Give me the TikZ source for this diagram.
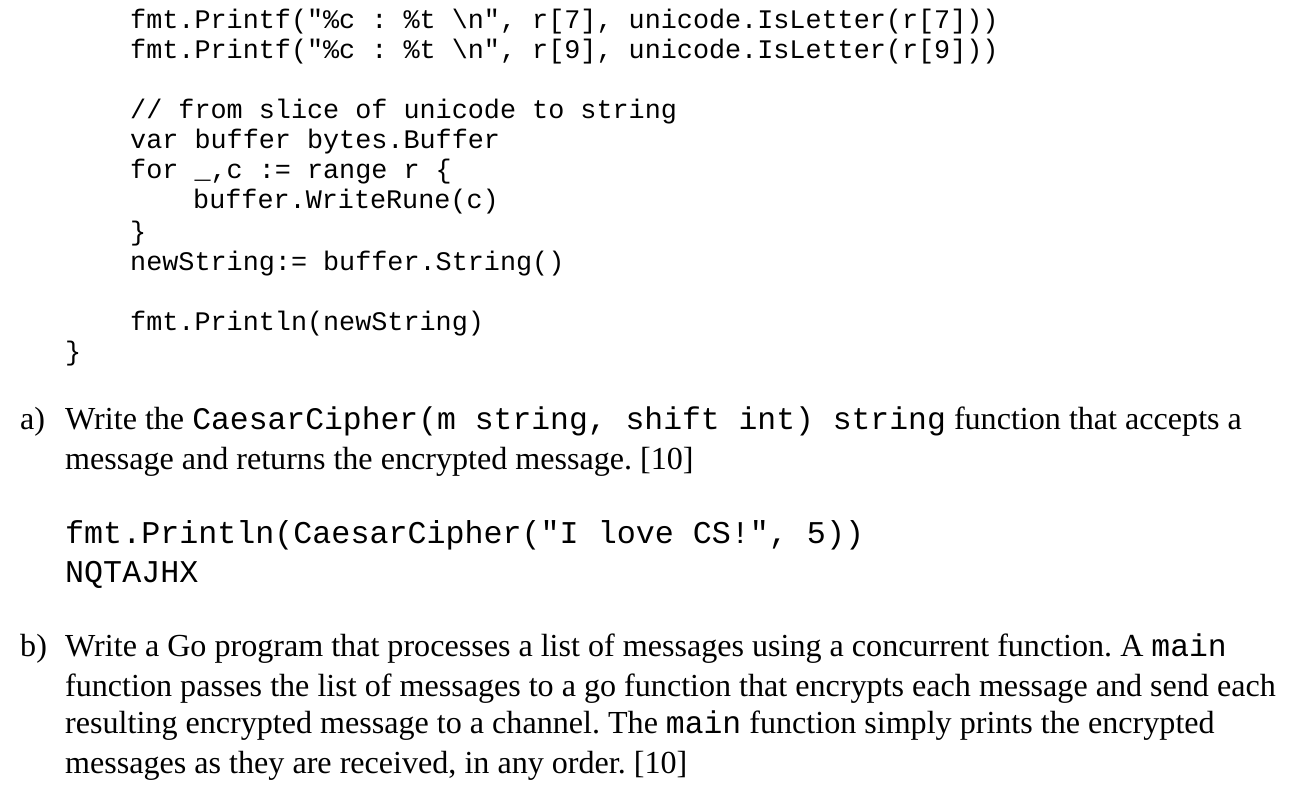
\documentclass[tikz,border=0pt]{standalone}
\usepackage{fontspec}
\setmainfont{Liberation Serif}
\setmonofont{Liberation Mono}
\frenchspacing
\begin{document}
\begin{tikzpicture}[x=1pt,y=-1pt,
  code/.style={anchor=base west,inner sep=0pt,font=\fontsize{26.8}{30}\ttfamily},
  prose/.style={anchor=base west,inner sep=0pt,font=\fontsize{32.1}{34}\selectfont}]
\useasboundingbox (0,0) rectangle (1303,801);
\newcommand\tb[1]{{\fontsize{31.4}{34}\ttfamily #1}}
\node[code] (c1) at (130,28) {fmt.Printf("\%c : \%t \textbackslash n", r[7], unicode.IsLetter(r[7]))};
\node[code] (c2) at (130,58) {fmt.Printf("\%c : \%t \textbackslash n", r[9], unicode.IsLetter(r[9]))};
\node[code] (c3) at (130,118) {// from slice of unicode to string};
\node[code] (c4) at (130,148) {var buffer bytes.Buffer};
\node[code] (c5) at (130,178) {for \_,c := range r \{};
\node[code] (c6) at (193,208) {buffer.WriteRune(c)};
\node[code] (c7) at (130,240) {\}};
\node[code] (c8) at (130,270) {newString:= buffer.String()};
\node[code] (c9) at (130,330) {fmt.Println(newString)};
\node[code] (c10) at (65,360) {\}};
\node[prose] (la) at (20,429) {a)};
\node[prose] (a1) at (65,429) {Write the \tb{CaesarCipher(m string, shift int) string} function that accepts a};
\node[prose] (a2) at (65,469) {message and returns the encrypted message. [10]};
\node[code,font=\fontsize{31.7}{34}\ttfamily] (e1) at (65,543) {fmt.Println(CaesarCipher("I love CS!", 5))};
\node[code,font=\fontsize{31.7}{34}\ttfamily] (e2) at (65,582) {NQTAJHX};
\node[prose] (lb) at (20,656) {b)};
\node[prose] (b1) at (65,656) {Write a Go program that processes a list of messages using a concurrent function. A \tb{main}};
\node[prose] (b2) at (65,696) {function passes the list of messages to a go function that encrypts each message and send each};
\node[prose] (b3) at (65,733) {resulting encrypted message to a channel. The \tb{main} function simply prints the encrypted};
\node[prose] (b4) at (65,773) {messages as they are received, in any order. [10]};
\end{tikzpicture}
\end{document}
